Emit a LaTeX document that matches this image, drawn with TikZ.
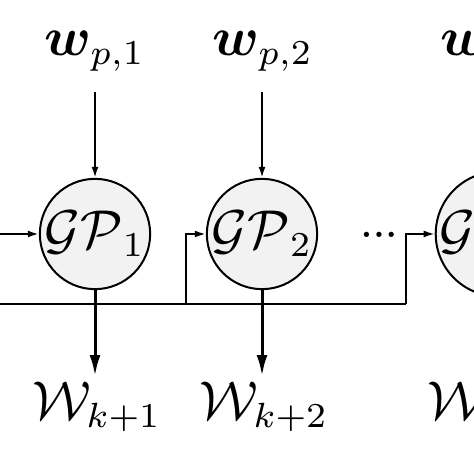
\documentclass[tikz,border=0pt]{standalone}
\usepackage{amsmath,bm}
\usetikzlibrary{arrows.meta}
\begin{document}
\begin{tikzpicture}[x=0.2pt,y=-0.2pt,
  every node/.style={font=\fontsize{10.6}{12}\selectfont},
  gp/.style={circle,draw,line width=0.4pt,fill=gray!10,minimum size=21.6pt,inner sep=0pt},
  lbl/.style={anchor=base,inner sep=0pt},
  thinarrow/.style={line width=0.4pt,-{Latex[length=2.2pt,width=1.4pt]}},
  thinline/.style={line width=0.4pt},
  thickarrow/.style={line width=0.6pt,-{Latex[length=4.2pt,width=2.2pt]}}]
\useasboundingbox (0,0) rectangle (474,474);
\clip (0,0) rectangle (474,474);
% GP nodes
\node[gp] (g1) at (95,234) {$\mathcal{GP}_1$};
\node[gp] (g2) at (262,234) {$\mathcal{GP}_2$};
\node[gp] (g3) at (498,234) {$\mathcal{GP}_N$};
% top labels
\node[lbl] (w1) at (95,56) {$\bm{w}_{p,1}$};
\node[lbl] (w2) at (263,56) {$\bm{w}_{p,2}$};
\node[lbl] (w3) at (498,56) {$\bm{w}_{p,N}$};
% bottom labels
\node[lbl] (W1) at (97,419) {$\mathcal{W}_{k+1}$};
\node[lbl] (W2) at (264,419) {$\mathcal{W}_{k+2}$};
\node[lbl] (W3) at (500,419) {$\mathcal{W}_{k+N}$};
% dots
\node[font=\fontsize{6.3}{7}\selectfont\bfseries,inner sep=0pt] (dots) at (379,235) {...};
% coordinates
\coordinate (t1) at (95,92);
\coordinate (t2) at (262,92);
\coordinate (t3) at (498,92);
\coordinate (o1) at (95,376);
\coordinate (o2) at (262,376);
\coordinate (o3) at (498,376);
\coordinate (in) at (0,234);
\coordinate (h0) at (0,304);
\coordinate (b1) at (186,304);
\coordinate (b2) at (406,304);
% connectors
\draw[thinarrow] (t1) -- (g1.north);
\draw[thinarrow] (t2) -- (g2.north);
\draw[thinarrow] (t3) -- (g3.north);
\draw[thinarrow] (in) -- (g1.west);
\draw[thinline] (h0) -- (b2);
\draw[thinarrow] (b1) |- (g2.west);
\draw[thinarrow] (b2) |- (g3.west);
\draw[thickarrow] (g1.south) -- (o1);
\draw[thickarrow] (g2.south) -- (o2);
\draw[thickarrow] (g3.south) -- (o3);
\end{tikzpicture}
\end{document}
